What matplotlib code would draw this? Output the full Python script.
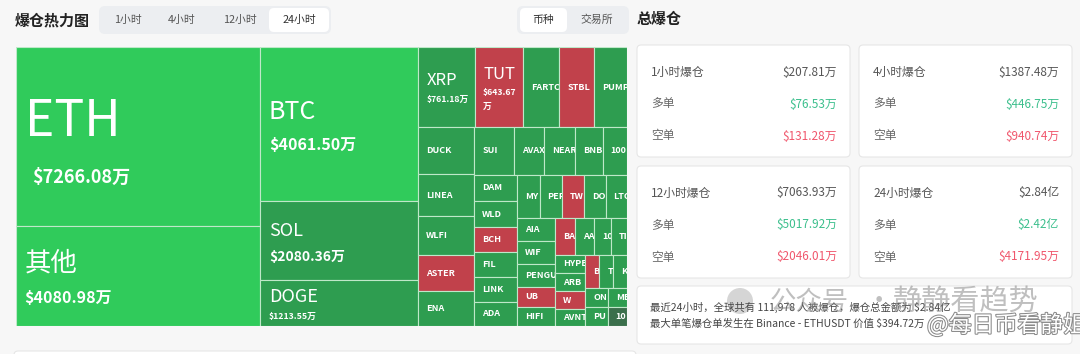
import matplotlib.pyplot as plt
import matplotlib.patches as mpatches
import matplotlib.patheffects as pe

plt.rcParams['font.family'] = ['Noto Sans CJK SC', 'DejaVu Sans']

# liquidation amounts, 24h, in 万 USD (sorted descending, as the treemap lays them out)
coins = ['ETH', '其他', 'BTC', 'SOL', 'DOGE',
         'XRP', 'TUT', 'FARTCOIN', 'STBL', 'PUMP',
         'DUCK', 'LINEA', 'WLFI', 'ASTER', 'ENA',
         'SUI', 'AVAX', 'NEAR', 'BNB', '1000PEPE',
         'DAM', 'WLD', 'BCH', 'FIL', 'LINK', 'ADA',
         'MYX', 'PEPE', 'TWT', 'DOT', 'LTC',
         'AIA', 'WIF', 'PENGU', 'UB', 'HIFI',
         'BANANA', 'AAVE', '1000SATS', 'TIA',
         'HYPE', 'ARB', 'W', 'AVNT',
         'BIO', 'TAO', 'KAITO',
         'ONDO', 'PUNDIX', 'MEW', '1000BONK']
amounts = [7266.08, 4080.98, 4061.50, 2080.36, 1213.55,
           761.18, 643.67, 487, 462, 444,
           438, 392, 364, 336, 327,
           313, 240, 238, 219, 192,
           190, 186, 179, 178, 177, 172,
           164, 162, 160, 158, 156,
           146, 144, 142, 125, 122,
           122, 118, 100, 99,
           94, 93, 88, 87,
           78, 77, 76,
           72, 71, 62, 61]
# dominant side of the liquidations
sides = ['long', 'long', 'long', 'long', 'long',
         'long', 'short', 'long', 'short', 'long',
         'long', 'long', 'long', 'short', 'long',
         'long', 'long', 'long', 'long', 'long',
         'long', 'long', 'short', 'long', 'long', 'long',
         'long', 'long', 'short', 'long', 'long',
         'long', 'long', 'long', 'short', 'long',
         'short', 'long', 'long', 'long',
         'long', 'long', 'short', 'long',
         'short', 'long', 'long',
         'long', 'long', 'long', 'even']

periods = ['1小时', '4小时', '12小时', '24小时']
card_titles = ['1小时爆仓', '4小时爆仓', '12小时爆仓', '24小时爆仓']
card_total = ['$207.81万', '$1387.48万', '$7063.93万', '$2.84亿']
card_long = ['$76.53万', '$446.75万', '$5017.92万', '$2.42亿']
card_short = ['$131.28万', '$940.74万', '$2046.01万', '$4171.95万']
summary = ['最近24小时，全球共有 111,978 人被爆仓，爆仓总金额为 $2.84亿',
           '最大单笔爆仓单发生在 Binance - ETHUSDT 价值 $394.72万']

GREEN_HI = '#30cb5b'
GREEN = '#2e9d50'
RED = '#c1414b'
DARK = '#3b6f4c'


def squarify(values, w, h):
    total = sum(values)
    areas = [v * w * h / total for v in values]
    rect = [0.0, 0.0, w, h]
    out = [None] * len(values)
    ratio = (1 + 5 ** 0.5) / 2

    def worst(row, fixed):
        s = sum(areas[i] for i in row)
        f = fixed * fixed * ratio
        return max(f * max(areas[i] for i in row) / (s * s),
                   s * s / (f * min(areas[i] for i in row)))

    def place(row, fixed, flush):
        s = sum(areas[i] for i in row)
        horiz = fixed == rect[2]
        other = s / fixed
        lim = rect[3] if horiz else rect[2]
        if flush or other > lim:
            other = lim
        pos = rect[0] if horiz else rect[1]
        end = rect[0] + rect[2] if horiz else rect[1] + rect[3]
        for k, i in enumerate(row):
            length = areas[i] / other if k < len(row) - 1 else end - pos
            out[i] = (pos, rect[1], length, other) if horiz else (rect[0], pos, other, length)
            pos += length
        if horiz:
            rect[1] += other
            rect[3] -= other
        else:
            rect[0] += other
            rect[2] -= other

    row, best, fixed, i = [], float('inf'), min(w, h), 0
    while i < len(areas):
        cand = row + [i]
        score = worst(cand, fixed)
        if score <= best:
            row, best, i = cand, score, i + 1
        else:
            place(row, fixed, False)
            fixed = min(rect[2], rect[3])
            row, best = [], float('inf')
    place(row, fixed, True)
    return out


fig = plt.figure(figsize=(10.8, 3.54), dpi=100)
fig.patch.set_facecolor('#f7f7f7')
renderer = fig.canvas.get_renderer()
bg = fig.add_axes([0, 0, 1, 1])
bg.set_xlim(0, 1080)
bg.set_ylim(354, 0)
bg.axis('off')


def box(x0, y0, x1, y1, fc, ec='none', r=4):
    bg.add_patch(mpatches.FancyBboxPatch((x0, y0), x1 - x0, y1 - y0,
                                         boxstyle='round,pad=0,rounding_size=%d' % r,
                                         fc=fc, ec=ec, lw=0.8))


# header
bg.text(15, 20, '爆仓热力图', fontsize=10.8, fontweight='bold', color='#222222', va='center')
box(99, 6, 331, 34, '#eceef1', r=6)
box(269, 8, 329, 32, 'white', r=5)
for name, cx in zip(periods, [128, 182, 240, 299]):
    bg.text(cx, 20, name, fontsize=7.8, color='#333333' if name == '24小时' else '#555555',
            ha='center', va='center')
box(517, 6, 629, 34, '#eceef1', r=6)
box(520, 8, 567, 32, 'white', r=5)
bg.text(543, 20, '币种', fontsize=7.8, color='#333333', ha='center', va='center')
bg.text(597, 20, '交易所', fontsize=7.8, color='#555555', ha='center', va='center')
bg.text(637, 19, '总爆仓', fontsize=10.8, fontweight='bold', color='#222222', va='center')

# summary cards
card_pos = [(637, 45), (859, 45), (637, 166), (859, 166)]
for k, (cx, cy) in enumerate(card_pos):
    box(cx, cy, cx + 213, cy + 112, 'white', ec='#e6e6e6')
    bg.text(cx + 14, cy + 27, card_titles[k], fontsize=8.5, color='#555555', va='center')
    bg.text(cx + 200, cy + 27, card_total[k], fontsize=8.5, color='#555555', va='center', ha='right')
    bg.text(cx + 14, cy + 59, '多单', fontsize=8.5, color='#666666', va='center')
    bg.text(cx + 200, cy + 59, card_long[k], fontsize=8.5, color='#3bbf8c', va='center', ha='right')
    bg.text(cx + 14, cy + 91, '空单', fontsize=8.5, color='#666666', va='center')
    bg.text(cx + 200, cy + 91, card_short[k], fontsize=8.5, color='#f0566c', va='center', ha='right')
box(637, 286, 1072, 344, 'white', ec='#e6e6e6')
bg.text(650, 307, summary[0], fontsize=7.5, color='#444444', va='center')
bg.text(650, 324, summary[1], fontsize=7.5, color='#444444', va='center')
box(14, 351, 636, 380, 'white', ec='#e6e6e6')

# watermark
bg.add_patch(mpatches.Circle((740, 301), 13, fc='#888888', alpha=0.35))
bg.text(770, 302, '公众号', fontsize=19, color='#808080', alpha=0.5, va='center')
bg.text(866, 302, '·', fontsize=19, color='#808080', alpha=0.5, va='center')
bg.text(893, 302, '静静看趋势', fontsize=21, color='#808080', alpha=0.5, va='center')
bg.text(927, 325, '@每日币看静姐', fontsize=16.5, color='white', va='center', ha='left',
        path_effects=[pe.withStroke(linewidth=1.5, foreground='#8a8a8a')])

# treemap
W, H = 611, 279
tm = fig.add_axes([16 / 1080, (354 - 326) / 354, W / 1080, H / 354])
tm.set_xlim(0, W)
tm.set_ylim(H, 0)
tm.axis('off')

big = {  # name pt, value pt, name dy, value dy, value dx
    'ETH': (36, 13, -14, 41, 16),
    '其他': (19, 11.5, -13, 22, 8),
    'BTC': (18, 11.5, -12, 21, 9),
    'SOL': (13, 10, -10, 16, 9),
    'DOGE': (13, 6.3, -6, 13, 9),
    'XRP': (12, 6.3, -7, 12, 9),
    'TUT': (12, 6.3, -13, 12.5, 8),
}

cells = squarify(amounts, W, H)
for name, amt, side, (x, y, w, h) in zip(coins, amounts, sides, cells):
    if side == 'short':
        fc = RED
    elif side == 'even':
        fc = DARK
    elif amt >= 4000:
        fc = GREEN_HI
    else:
        fc = GREEN
    r = mpatches.Rectangle((x, y), w, h, fc=fc, ec='#bfe8c9', lw=0.8)
    tm.add_patch(r)
    cy = y + h / 2
    labels = []
    if name in big:
        npt, vpt, ndy, vdy, vdx = big[name]
        val = '$%.2f万' % amt
        if len(val) * vpt * 0.62 / 0.72 > w - vdx - 2:
            val = val.replace('万', '\n万')
        labels.append(tm.text(x + 9, cy + ndy, name, fontsize=npt, color='white', va='center'))
        labels.append(tm.text(x + vdx, cy + vdy, val, fontsize=vpt, color='white', va='center',
                              fontweight='bold', linespacing=1.7))
    else:
        t = tm.text(x + 8, cy, name, fontsize=6.5, color='white', va='center', fontweight='bold')
        # names that do not fit are cut at the cell edge, as in the dashboard
        right = tm.transData.transform((x + w, cy))[0]
        s = name
        while len(s) > 1 and t.get_window_extent(renderer).x1 > right + 4:
            s = s[:-1]
            t.set_text(s)
        labels.append(t)
    for t in labels:
        t.set_clip_on(True)
        t.set_clip_path(r)

fig.savefig('out.png', dpi=100, facecolor=fig.get_facecolor())
